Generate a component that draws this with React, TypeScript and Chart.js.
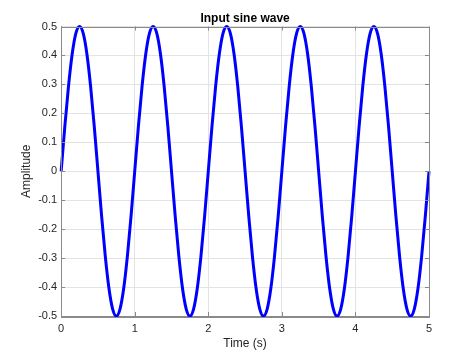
import React, { useEffect, useRef } from "react";
import { Chart, registerables } from "chart.js";

Chart.register(...registerables);

const chartTitle = "Input sine wave";
const xTitle = "Time (s)";
const yTitle = "Amplitude";

const timeValues: number[] = [
  0, 0.05, 0.1, 0.15, 0.2, 0.25, 0.3, 0.35, 0.4, 0.45,
  0.5, 0.55, 0.6, 0.65, 0.7, 0.75, 0.8, 0.85, 0.9, 0.95,
  1, 1.05, 1.1, 1.15, 1.2, 1.25, 1.3, 1.35, 1.4, 1.45,
  1.5, 1.55, 1.6, 1.65, 1.7, 1.75, 1.8, 1.85, 1.9, 1.95,
  2, 2.05, 2.1, 2.15, 2.2, 2.25, 2.3, 2.35, 2.4, 2.45,
  2.5, 2.55, 2.6, 2.65, 2.7, 2.75, 2.8, 2.85, 2.9, 2.95,
  3, 3.05, 3.1, 3.15, 3.2, 3.25, 3.3, 3.35, 3.4, 3.45,
  3.5, 3.55, 3.6, 3.65, 3.7, 3.75, 3.8, 3.85, 3.9, 3.95,
  4, 4.05, 4.1, 4.15, 4.2, 4.25, 4.3, 4.35, 4.4, 4.45,
  4.5, 4.55, 4.6, 4.65, 4.7, 4.75, 4.8, 4.85, 4.9, 4.95,
  5,
];

const amplitudeValues: number[] = [
  0, 0.155, 0.294, 0.405, 0.476, 0.5, 0.476, 0.405, 0.294, 0.155,
  0, -0.155, -0.294, -0.405, -0.476, -0.5, -0.476, -0.405, -0.294, -0.155,
  0, 0.155, 0.294, 0.405, 0.476, 0.5, 0.476, 0.405, 0.294, 0.155,
  0, -0.155, -0.294, -0.405, -0.476, -0.5, -0.476, -0.405, -0.294, -0.155,
  0, 0.155, 0.294, 0.405, 0.476, 0.5, 0.476, 0.405, 0.294, 0.155,
  0, -0.155, -0.294, -0.405, -0.476, -0.5, -0.476, -0.405, -0.294, -0.155,
  0, 0.155, 0.294, 0.405, 0.476, 0.5, 0.476, 0.405, 0.294, 0.155,
  0, -0.155, -0.294, -0.405, -0.476, -0.5, -0.476, -0.405, -0.294, -0.155,
  0, 0.155, 0.294, 0.405, 0.476, 0.5, 0.476, 0.405, 0.294, 0.155,
  0, -0.155, -0.294, -0.405, -0.476, -0.5, -0.476, -0.405, -0.294, -0.155,
  0,
];

const xTicks: number[] = [0, 1, 2, 3, 4, 5];
const yTicks: number[] = [-0.5, -0.4, -0.3, -0.2, -0.1, 0, 0.1, 0.2, 0.3, 0.4, 0.5];

const FONT = "'Liberation Sans', Arial, Helvetica, sans-serif";
const AXIS_COLOR = "#262626";
const BOX_COLOR = "#8a8a8a";

const boxPlugin = {
  id: "matlabBox",
  afterDatasetsDraw(chart: any) {
    const { ctx, chartArea, scales } = chart;
    const { left, right, top, bottom } = chartArea;
    ctx.save();
    ctx.strokeStyle = BOX_COLOR;
    ctx.lineWidth = 1;
    ctx.beginPath();
    const tl = 4;
    for (const v of xTicks) {
      const x = Math.round(scales.x.getPixelForValue(v)) + 0.5;
      ctx.moveTo(x, bottom);
      ctx.lineTo(x, bottom - tl);
      ctx.moveTo(x, top);
      ctx.lineTo(x, top + tl);
    }
    for (const v of yTicks) {
      const y = Math.round(scales.y.getPixelForValue(v)) + 0.5;
      ctx.moveTo(left, y);
      ctx.lineTo(left + tl, y);
      ctx.moveTo(right, y);
      ctx.lineTo(right - tl, y);
    }
    ctx.stroke();
    ctx.strokeRect(Math.round(left) + 0.5, Math.round(top) + 0.5, Math.round(right - left), Math.round(bottom - top));
    ctx.restore();
  },
};

export default function App() {
  const canvasRef = useRef<HTMLCanvasElement | null>(null);

  useEffect(() => {
    const canvas = canvasRef.current;
    if (!canvas) return;
    const points = timeValues.map((t, i) => ({ x: t, y: amplitudeValues[i] }));
    const chart = new Chart(canvas, {
      type: "line",
      data: {
        datasets: [
          {
            data: points,
            borderColor: "#0000ff",
            borderWidth: 3,
            pointRadius: 0,
            fill: false,
            cubicInterpolationMode: "monotone",
            clip: false as any,
          },
        ],
      },
      plugins: [boxPlugin],
      options: {
        responsive: false,
        animation: false,
        devicePixelRatio: 1,
        layout: { padding: { left: 0, right: 45, top: 0, bottom: 0 } },
        plugins: {
          legend: { display: false },
          tooltip: { enabled: false },
          title: {
            display: true,
            fullSize: false,
            text: chartTitle,
            color: "#000000",
            font: { family: FONT, size: 12, weight: "bold", lineHeight: 1.2 },
            padding: { top: 11.8, bottom: 0.3 },
          },
        },
        scales: {
          x: {
            type: "linear",
            min: 0,
            max: 5,
            afterBuildTicks: (axis: any) => {
              axis.ticks = xTicks.map((v) => ({ value: v }));
            },
            grid: { color: "#e3e3e3", drawTicks: false, lineWidth: 1 },
            border: { display: true, color: BOX_COLOR },
            ticks: {
              color: AXIS_COLOR,
              font: { family: FONT, size: 11, lineHeight: 1.2 },
              padding: 6.4,
              maxRotation: 0,
            },
            title: {
              display: true,
              text: xTitle,
              color: AXIS_COLOR,
              font: { family: FONT, size: 12, lineHeight: 1.2 },
              padding: { top: -5.2, bottom: 3.8 },
            },
          },
          y: {
            type: "linear",
            min: -0.5,
            max: 0.5,
            afterBuildTicks: (axis: any) => {
              axis.ticks = yTicks.map((v) => ({ value: v }));
            },
            grid: { color: "#e3e3e3", drawTicks: false, lineWidth: 1 },
            border: { display: true, color: BOX_COLOR },
            ticks: {
              color: AXIS_COLOR,
              font: { family: FONT, size: 11, lineHeight: 1.2 },
              padding: 4,
              callback: (v: any) => {
                const n = Math.round(Number(v) * 10) / 10;
                return String(n);
              },
            },
            title: {
              display: true,
              text: yTitle,
              color: AXIS_COLOR,
              font: { family: FONT, size: 12, lineHeight: 1.2 },
              padding: { top: 19.8, bottom: 0 },
            },
          },
        },
      },
    });
    return () => chart.destroy();
  }, []);

  return (
    <div style={{ position: "fixed", left: 0, top: 0, width: 474, height: 355, background: "#ffffff" }}>
      <canvas ref={canvasRef} width={474} height={355} style={{ width: 474, height: 355, display: "block" }} />
    </div>
  );
}
